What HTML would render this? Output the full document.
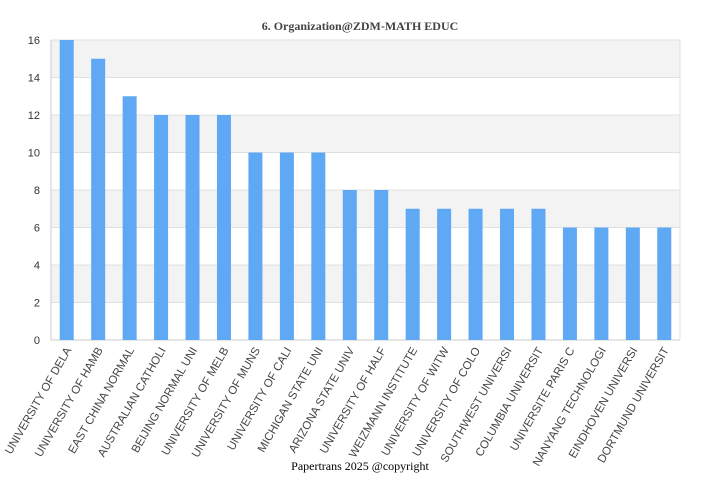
<!DOCTYPE html>
<html><head><meta charset="utf-8"><style>
body{margin:0;background:#fff;}
svg{display:block;font-family:"Liberation Sans",sans-serif;}
</style></head><body>
<svg id="chart" width="720" height="480" xmlns="http://www.w3.org/2000/svg">
<text x="360" y="30" text-anchor="middle" font-family="Liberation Serif" font-weight="bold" font-size="12" fill="#444">6. Organization@ZDM-MATH EDUC</text>
<g id="bands"></g><g id="grid"></g><g id="bars"></g><g id="yt"></g><g id="xt"></g>
<text x="360" y="470" text-anchor="middle" font-family="Liberation Serif" font-size="12" fill="#000">Papertrans 2025 @copyright</text>
</svg>
<script>
const categories=["UNIVERSITY OF DELA","UNIVERSITY OF HAMB","EAST CHINA NORMAL","AUSTRALIAN CATHOLI","BEIJING NORMAL UNI","UNIVERSITY OF MELB","UNIVERSITY OF MUNS","UNIVERSITY OF CALI","MICHIGAN STATE UNI","ARIZONA STATE UNIV","UNIVERSITY OF HALF","WEIZMANN INSTITUTE","UNIVERSITY OF WITW","UNIVERSITY OF COLO","SOUTHWEST UNIVERSI","COLUMBIA UNIVERSIT","UNIVERSITE PARIS C","NANYANG TECHNOLOGI","EINDHOVEN UNIVERSI","DORTMUND UNIVERSIT"];
const values=[16,15,13,12,12,12,10,10,10,8,8,7,7,7,7,7,6,6,6,6];
const yTicks=[0,2,4,6,8,10,12,14,16];
const ns="http://www.w3.org/2000/svg";
const L=51,R=680,T=40,B=340,ymax=16;
const n=categories.length;
const step=(R-L)/n;
const y=v=>B-(v/ymax)*(B-T);
const x=i=>L+step*(i+0.5);
function mk(t,a,p){const e=document.createElementNS(ns,t);for(const k in a)e.setAttribute(k,a[k]);document.getElementById(p).appendChild(e);return e;}
for(let i=0;i<yTicks.length-1;i++){
  const b=mk('rect',{x:L,y:y(yTicks[i+1]),width:R-L,height:y(yTicks[i])-y(yTicks[i+1]),fill:(i%2==1)?'#f3f3f3':'#ffffff'},'bands');
  
  
}
yTicks.forEach(t=>{
  const l=mk('line',{x1:L,x2:R,y1:y(t),y2:y(t),stroke:'#e0e0e0','stroke-width':1},'grid');
  
  
  const tx=mk('text',{x:40,y:y(t)+4,'text-anchor':'end','font-size':11,fill:'#333'},'yt');
  tx.textContent=t;
  
  
});
mk('line',{x1:L,x2:L,y1:T,y2:B,stroke:'#ccc'},'grid');
mk('line',{x1:R,x2:R,y1:T,y2:B,stroke:'#e0e0e0'},'grid');
mk('line',{x1:L,x2:R,y1:B,y2:B,stroke:'#ccc'},'grid');
values.forEach((v,i)=>{
  const r=mk('rect',{x:x(i)-7,y:y(v),width:14,height:B-y(v),fill:'#5fa8f3'},'bars');
  
  
  const ax=x(i)+5, ay=350;
  const t=mk('text',{x:ax,y:ay,'text-anchor':'end','font-size':11.5,fill:'#444',transform:`rotate(-60 ${ax} ${ay})`},'xt');
  t.textContent=categories[i];
  
  
});
</script>
</body></html>
